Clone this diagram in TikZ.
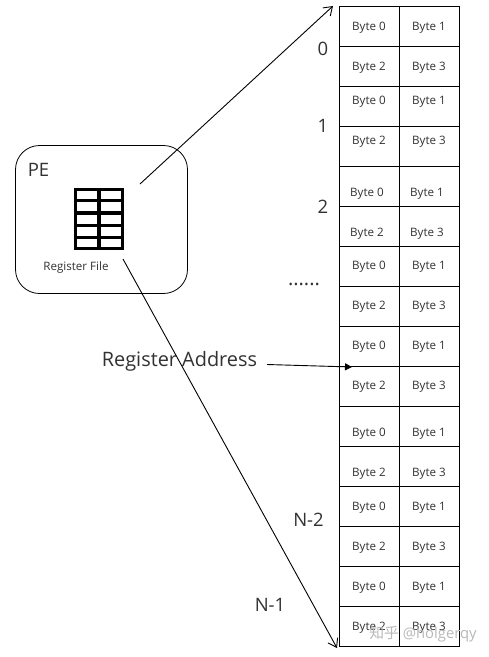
\documentclass[tikz,border=0pt]{standalone}
\usepackage{fontspec}
\setmainfont{Open Sans}
\newfontfamily\cjkwm{Noto Sans CJK SC}
\usetikzlibrary{arrows.meta}
\definecolor{txt}{RGB}{50,50,50}
\tikzset{
  x=1pt,y=-1pt,
  cell/.style={draw=black,line width=0.8pt,minimum width=60pt,minimum height=40pt,inner sep=0pt,outer sep=0pt,anchor=north west},
  bytelab/.style={font=\fontsize{11.6}{13}\selectfont,text=txt,inner sep=0pt},
  lab/.style={font=\fontsize{18.5}{20}\selectfont,text=txt,inner sep=0pt},
  conn/.style={draw=black,line width=0.9pt,-{Straight Barb[length=8pt,width=11pt,line width=0.9pt]}},
  addr/.style={draw=black,line width=0.9pt,-{Triangle[length=7pt,width=7pt]}},
}
\begin{document}
\begin{tikzpicture}
\useasboundingbox (0,0) rectangle (489,657);
\fill[white] (0,0) rectangle (489,657);
% memory grid
\foreach \i in {0,...,15}{
  \pgfmathsetmacro{\ytop}{6.5+40*\i}
  \node[cell] (L\i) at (339,\ytop) {};
  \node[cell] (R\i) at (399,\ytop) {};
}
\foreach \i/\yy/\dx/\a/\b in {
  0/26/0/0/1, 1/66/0/2/3, 2/100/0/0/1, 3/140/0/2/3,
  4/192/-2/0/1, 5/232/-2/2/3, 6/265/0/0/1, 7/305/0/2/3,
  8/345/0/0/1, 9/385/0/2/3, 10/432/0/0/1, 11/472/0/2/3,
  12/506/0/0/1, 13/546/0/2/3, 14/586/0/0/1, 15/626/0/2/3}{
  \node[bytelab,anchor=base] (la\i) at (369+\dx,\yy+4) {Byte \a};
  \node[bytelab,anchor=base] (lb\i) at (429+\dx,\yy+4) {Byte \b};
}
% PE
\node[draw=black,line width=0.8pt,rounded corners=24pt,minimum width=172pt,minimum height=148pt,inner sep=0pt,outer sep=0pt] (pe) at (101.5,219.5) {};
\node[lab,anchor=base] (pelab) at (38.5,176.5) {PE};
\node[draw=black,line width=3.4pt,minimum width=46.5pt,minimum height=58.5pt,inner sep=0pt,outer sep=0pt] (rf) at (99,219) {};
\foreach \yy in {200.4,212.8,225.2,237.6}{\draw[black,line width=3.4pt] (74,\yy) -- (124,\yy);}
\draw[black,line width=3.4pt] (rf.north) -- (rf.south);
\node[anchor=base,text=txt,inner sep=0pt,font=\fontsize{11.6}{13}\selectfont] (rflab) at (76,270) {Register File};
% labels
\node[lab,anchor=base] (n0) at (323,55.5) {0};
\node[lab,anchor=base] (n1) at (323,132.5) {1};
\node[lab,anchor=base] (n2) at (323,213.5) {2};
\node[lab,font=\fontsize{20}{22}\selectfont] (ndots) at (304,284.5) {......};
\node[lab,anchor=base] (nm2) at (308.5,526.5) {N-2};
\node[lab,anchor=base] (nm1) at (270,611.5) {N-1};
\node[lab,anchor=base,font=\fontsize{19.9}{22}\selectfont] (ra) at (179.5,366) {Register Address};
% connectors
\coordinate (c0s) at (140,184);
\coordinate (c0e) at (333,6);
\coordinate (c1s) at (123,259);
\coordinate (c1e) at (337,648);
\coordinate (c2s) at (267,364.5);
\coordinate (c2e) at (352,367);
\draw[conn] (c0s) -- (c0e);
\draw[conn] (c1s) -- (c1e);
\draw[addr] (c2s) -- (c2e);
% watermark
\node[inner sep=0pt,text=gray!55,font=\fontsize{14.8}{16}\selectfont] (wm) at (423,634) {{\cjkwm 知乎} @holgerqy};
\end{tikzpicture}
\end{document}
